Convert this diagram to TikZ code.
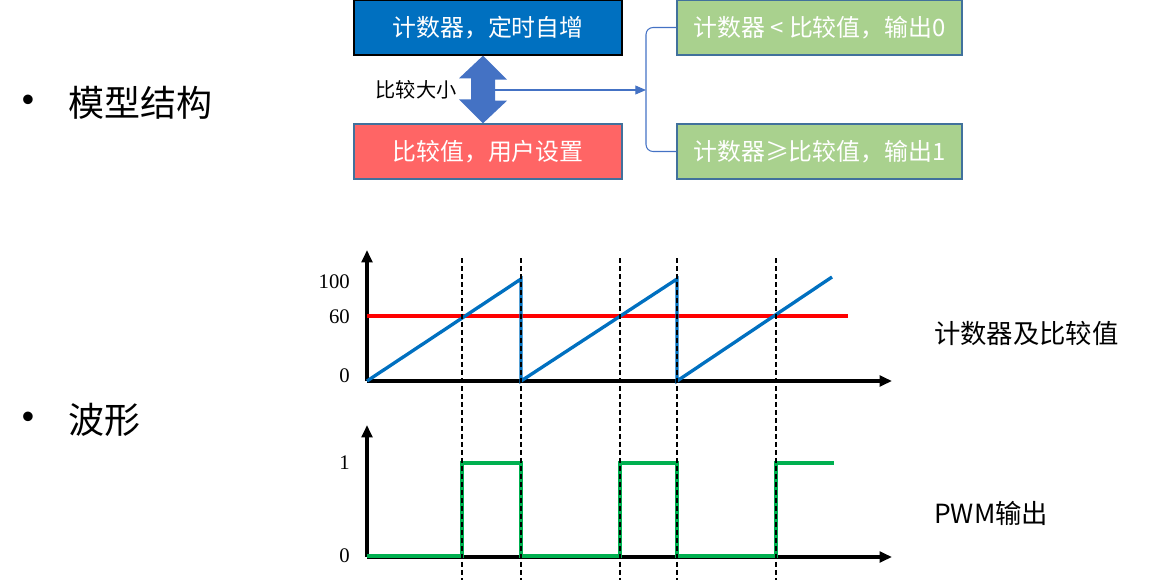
\documentclass[tikz,border=0pt]{standalone}
\usepackage{fontspec}
\setmainfont{Noto Sans CJK SC}
\newfontfamily\numfont{Liberation Serif}
\newfontfamily\dotfont{Liberation Sans}
\usetikzlibrary{arrows.meta,positioning}

\definecolor{cntblue}{HTML}{0070C0}
\definecolor{cmpred}{HTML}{FF6565}
\definecolor{outgreen}{HTML}{A9D18E}
\definecolor{edgeblue}{HTML}{41719C}
\definecolor{arrowblue}{HTML}{4472C4}
\definecolor{pwmgreen}{HTML}{00B050}

\tikzset{
  box/.style={draw=edgeblue, line width=0.8pt, text=white, minimum width=5.36cm,
    minimum height=1.1cm, inner sep=0pt, font=\fontsize{13.6}{16}\selectfont},
  outbox/.style={box, fill=outgreen, minimum width=5.7cm},
  axis/.style={line width=1.9pt, -{Triangle[length=7pt,width=6pt]}},
  cut/.style={line width=1.3pt, dash pattern=on 0.1cm off 0.06cm},
  tick/.style={left, font=\numfont\fontsize{11.8}{13}\selectfont},
  bullet/.style={right, font=\fontsize{20.5}{24}\selectfont}
}

\begin{document}
\begin{tikzpicture}[x=0.02cm, y=-0.02cm]
\useasboundingbox (0,0) rectangle (1166,582);

% Bullet items on the left
\node[bullet] (model) at (62,103) {模型结构};
\node[bullet] (wave) at (62,420) {波形};
\node at (28,103) {\dotfont\fontsize{20}{22}\selectfont •};
\node at (28,420) {\dotfont\fontsize{20}{22}\selectfont •};

% Counter and compare value boxes
\node[box, fill=cntblue, draw=black] (counter) at (488,27.5) {计数器，定时自增};
\node[box, fill=cmpred] (cmpval) at (488,151.5) {比较值，用户设置};

% Output boxes
\node[outbox] (low) at (819.5,27.5) {计数器 < 比较值，输出0};
\node[outbox] (high) at (819.5,151.5) {计数器≥比较值，输出1};

% Double arrow between counter and compare value
\coordinate (cmp) at (483,90);
\fill[arrowblue] (counter.south -| cmp) -- ++(24,24) -- ++(-12,0) -- ++(0,21)
  -- ++(12,0) -- (cmpval.north -| cmp) -- ++(-24,-24) -- ++(12,0) -- ++(0,-21)
  -- ++(-12,0) -- cycle;
\node[font=\fontsize{11.5}{13}\selectfont] (cmplabel) at (416,90) {比较大小};

% Arrow to the bracket
\coordinate (shaft) at (495,90);
\coordinate (fork) at (646,90);
\draw[arrowblue, line width=0.6pt, -{Triangle[length=6pt,width=5pt]}] (shaft) -- (fork);

% Bracket to the output boxes
\draw[arrowblue, line width=0.6pt, rounded corners=4pt]
  (low.west) -- (low.west -| fork) -- (high.west -| fork) -- (high.west);

% Upper chart: counter and compare value
\coordinate (o1) at (367,381);
\draw[axis] (o1) -- (367,250);
\draw[axis] (o1) -- (892,381);
\node[tick] at (356,282) {100};
\node[tick] at (356,317) {60};
\node[tick] at (356,376) {0};
\draw[red, line width=1.9pt] (367,316) -- (848,316);
\draw[cntblue, line width=1.9pt] (o1) -- (521,279) -- (521,381) -- (677,279)
  -- (677,381) -- (832,277);
\node[right, font=\fontsize{15}{18}\selectfont] (cntlabel) at (928,333) {计数器及比较值};

% Lower chart: PWM output
\coordinate (o2) at (367,557);
\draw[axis] (o2) -- (367,425);
\draw[axis] (o2) -- (892,557);
\node[tick] at (356,463) {1};
\node[tick] at (356,556) {0};
\draw[pwmgreen, line width=1.9pt] (367,556) -- (462,556) -- (462,463) -- (521,463)
  -- (521,556) -- (620,556) -- (620,463) -- (677,463) -- (677,556) -- (776,556)
  -- (776,463) -- (834,463);
\node[right, font=\fontsize{15}{18}\selectfont] (pwmlabel) at (928,513) {PWM输出};

% Dashed lines at the switching points
\foreach \t in {462,521,620,677,776}
  \draw[cut] (\t,258) -- (\t,580);

\end{tikzpicture}
\end{document}
